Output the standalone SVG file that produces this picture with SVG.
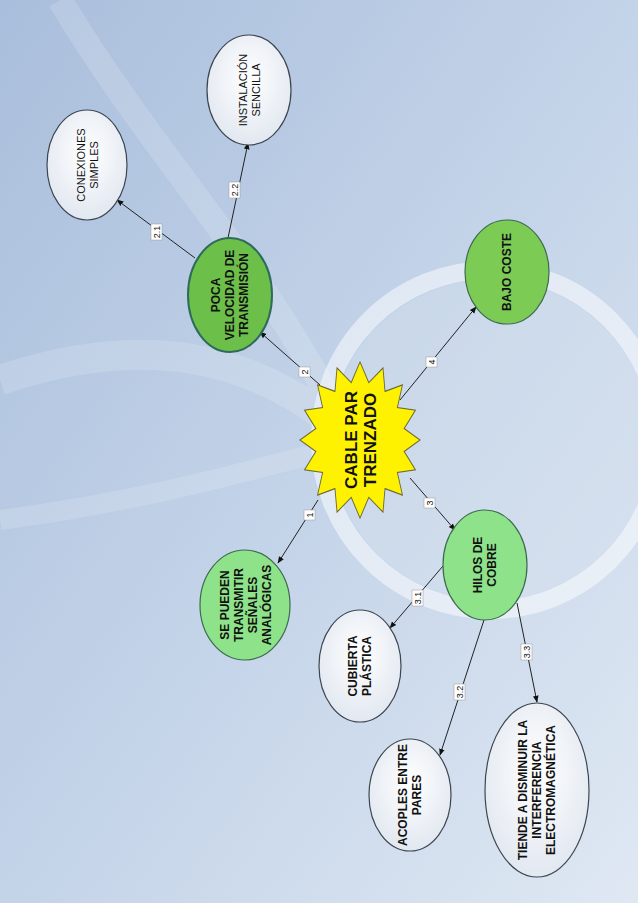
<svg xmlns="http://www.w3.org/2000/svg" width="638" height="903" viewBox="0 0 638 903">
<defs>
<linearGradient id="bg" x1="0" y1="0" x2="1" y2="1">
<stop offset="0" stop-color="#a9bedc"/><stop offset="0.5" stop-color="#c3d3e8"/><stop offset="1" stop-color="#dfe8f3"/>
</linearGradient>
<radialGradient id="wg" cx="0.5" cy="0.4" r="0.7"><stop offset="0" stop-color="#ffffff"/><stop offset="1" stop-color="#dde4ee"/></radialGradient>
<marker id="ah" viewBox="0 0 10 10" refX="9" refY="5" markerWidth="7" markerHeight="7" orient="auto"><path d="M0,1 L10,5 L0,9 z" fill="#111"/></marker>
<style>
.w{fill:url(#wg);stroke:#3d4650;stroke-width:1.2}
.g1{fill:#6cc04a;stroke:#2d6b5a;stroke-width:2}
.g2{fill:#8ee38a;stroke:#3d6b50;stroke-width:1.2}
.g3{fill:#7ccb55;stroke:#3d6b50;stroke-width:1.2}
text{font-family:"Liberation Sans",Arial,sans-serif;text-anchor:middle;fill:#111}
.b{font-weight:bold;font-size:12px}
.n{font-size:11px}
.c line{stroke:#222;stroke-width:1;marker-end:url(#ah)}
.lb rect{fill:#fff;stroke:#999;stroke-width:0.5}
.lb text{font-size:9px}
</style>
</defs>
<rect width="638" height="903" fill="url(#bg)"/>
<g opacity="0.15" fill="none" stroke="#ffffff">
<path d="M0,380 C150,330 250,360 330,420" stroke-width="30"/>
<path d="M0,520 C150,500 250,470 330,450" stroke-width="20"/>
<path d="M60,0 C150,150 250,250 330,400" stroke-width="25"/>
</g>
<circle cx="490" cy="440" r="160" fill="#d8e2ef" fill-opacity="0.35"/>
<circle cx="490" cy="440" r="170" fill="none" stroke="#ffffff" stroke-opacity="0.5" stroke-width="18"/>
<g class="c">
<line x1="320" y1="385" x2="260" y2="332"/>
<line x1="195" y1="258" x2="117" y2="200"/>
<line x1="228" y1="238" x2="248" y2="143"/>
<line x1="400" y1="400" x2="476" y2="307"/>
<line x1="318" y1="500" x2="278" y2="563"/>
<line x1="410" y1="478" x2="455" y2="530"/>
<line x1="443" y1="566" x2="390" y2="628"/>
<line x1="484" y1="620" x2="440" y2="755"/>
<line x1="517" y1="603" x2="537" y2="702"/>
</g>
<g class="lb">
<g transform="translate(305,372) rotate(-90)"><rect x="-5" y="-6" width="10" height="11"/><text y="3">2</text></g>
<g transform="translate(157,232) rotate(-90)"><rect x="-8" y="-6" width="16" height="11"/><text y="3">2.1</text></g>
<g transform="translate(235,190) rotate(-90)"><rect x="-8" y="-6" width="16" height="11"/><text y="3">2.2</text></g>
<g transform="translate(432,362) rotate(-90)"><rect x="-5" y="-6" width="10" height="11"/><text y="3">4</text></g>
<g transform="translate(310,515) rotate(-90)"><rect x="-5" y="-6" width="10" height="11"/><text y="3">1</text></g>
<g transform="translate(430,503) rotate(-90)"><rect x="-5" y="-6" width="10" height="11"/><text y="3">3</text></g>
<g transform="translate(418,598) rotate(-90)"><rect x="-8" y="-6" width="16" height="11"/><text y="3">3.1</text></g>
<g transform="translate(460,692) rotate(-90)"><rect x="-8" y="-6" width="16" height="11"/><text y="3">3.2</text></g>
<g transform="translate(527,652) rotate(-90)"><rect x="-8" y="-6" width="16" height="11"/><text y="3">3.3</text></g>
</g>
<g id="center">
<polygon transform="translate(360,440) scale(0.6,0.78)" fill="#fff200" stroke="#6b6b3a" stroke-width="1.5" points="100,0 73.6,14.6 92.4,38.3 62.3,41.7 70.7,70.7 41.7,62.3 38.3,92.4 14.6,73.6 0,100 -14.6,73.6 -38.3,92.4 -41.7,62.3 -70.7,70.7 -62.3,41.7 -92.4,38.3 -73.6,14.6 -100,0 -73.6,-14.6 -92.4,-38.3 -62.3,-41.7 -70.7,-70.7 -41.7,-62.3 -38.3,-92.4 -14.6,-73.6 0,-100 14.6,-73.6 38.3,-92.4 41.7,-62.3 70.7,-70.7 62.3,-41.7 92.4,-38.3 73.6,-14.6"/>
<text transform="translate(360,440) rotate(-90)" style="font-weight:bold;font-size:17px"><tspan x="0" y="-3">CABLE PAR</tspan><tspan x="0" y="16">TRENZADO</tspan></text>
</g>
<g id="poca"><ellipse class="g1" cx="230" cy="295" rx="42" ry="57"/>
<text class="b" transform="translate(230,295) rotate(-90)"><tspan x="0" y="-10">POCA</tspan><tspan x="0" y="4">VELOCIDAD  DE</tspan><tspan x="0" y="18">TRANSMISIÓN</tspan></text></g>
<g id="conexiones"><ellipse class="w" cx="87" cy="165" rx="40" ry="55"/>
<text class="n" transform="translate(87,165) rotate(-90)"><tspan x="0" y="-2">CONEXIONES</tspan><tspan x="0" y="11">SIMPLES</tspan></text></g>
<g id="instalacion"><ellipse class="w" cx="249" cy="90" rx="42" ry="55"/>
<text class="n" transform="translate(249,90) rotate(-90)"><tspan x="0" y="-2">INSTALACIÓN</tspan><tspan x="0" y="11">SENCILLA</tspan></text></g>
<g id="bajo"><ellipse class="g3" cx="507" cy="272" rx="42" ry="52"/>
<text class="b" transform="translate(507,272) rotate(-90)"><tspan x="0" y="4">BAJO COSTE</tspan></text></g>
<g id="senales"><ellipse class="g2" cx="245" cy="605" rx="45" ry="55"/>
<text class="b" transform="translate(245,605) rotate(-90)"><tspan x="0" y="-16">SE PUEDEN</tspan><tspan x="0" y="-2">TRANSMITIR</tspan><tspan x="0" y="12">SEÑALES</tspan><tspan x="0" y="26">ANALÓGICAS</tspan></text></g>
<g id="hilos"><ellipse class="g2" cx="485" cy="565" rx="42" ry="55"/>
<text class="b" transform="translate(485,565) rotate(-90)"><tspan x="0" y="-3">HILOS DE</tspan><tspan x="0" y="11">COBRE</tspan></text></g>
<g id="cubierta"><ellipse class="w" cx="360" cy="666" rx="41" ry="56"/>
<text class="b" transform="translate(360,666) rotate(-90)"><tspan x="0" y="-3">CUBIERTA</tspan><tspan x="0" y="11">PLÁSTICA</tspan></text></g>
<g id="acoples"><ellipse class="w" cx="410" cy="795" rx="41" ry="56"/>
<text class="b" transform="translate(410,795) rotate(-90)"><tspan x="0" y="-3">ACOPLES ENTRE</tspan><tspan x="0" y="11">PARES</tspan></text></g>
<g id="tiende"><ellipse class="w" cx="537" cy="790" rx="52" ry="87"/>
<text class="b" transform="translate(537,790) rotate(-90)"><tspan x="0" y="-10">TIENDE A DISMINUIR LA</tspan><tspan x="0" y="4">INTERFERENCIA</tspan><tspan x="0" y="18">ELECTROMAGNÉTICA</tspan></text></g>
</svg>
